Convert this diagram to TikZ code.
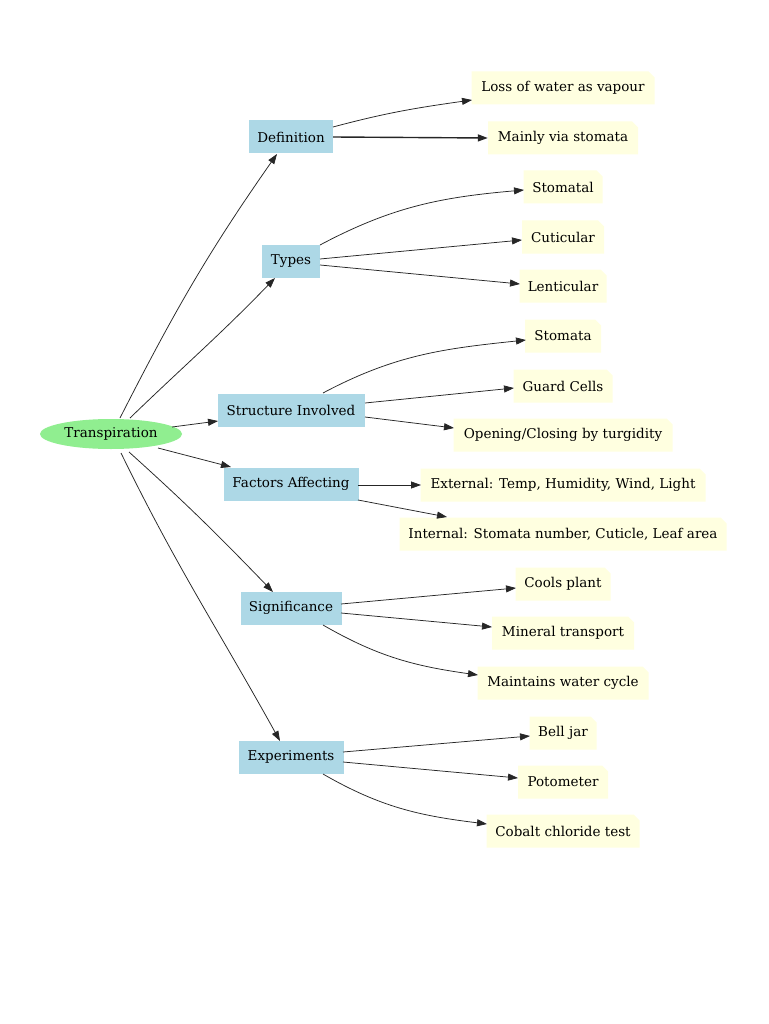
\documentclass[tikz,border=0pt]{standalone}
\usepackage{fontspec}
\setmainfont{DejaVu Serif}
\usetikzlibrary{arrows.meta,shapes.geometric,shapes.misc}
\definecolor{midc}{HTML}{ADD8E6}
\definecolor{rootc}{HTML}{90EE90}
\definecolor{leafc}{HTML}{FFFFE0}
\tikzset{
  txt/.style={font=\fontsize{13.5}{15}\selectfont},
  rootnode/.style={ellipse,fill=rootc,draw=none,minimum width=142pt,minimum height=30pt,inner sep=0pt,txt},
  midnode/.style={rectangle,fill=midc,draw=none,minimum height=33pt,inner sep=0pt,minimum width=#1,txt},
  leafnode/.style={chamfered rectangle,chamfered rectangle corners={north east},chamfered rectangle xsep=3pt,chamfered rectangle ysep=3pt,fill=leafc,draw=none,minimum height=33pt,inner sep=0pt,minimum width=#1,txt},
  conn/.style={draw=black!85,line width=0.75pt,-{Triangle[length=10pt,width=7pt]}},
  thickconn/.style={conn,line width=1.4pt}
}
\begin{document}
\begin{tikzpicture}[x=1pt,y=1pt]
\useasboundingbox (0,0) rectangle (768,-1024);
\fill[white] (0,0) rectangle (768,-1024);
% root
\node[rootnode] (tr) at (111,-434) {Transpiration};
% middle
\node[midnode=84pt] (def) at (291,-137) {Definition};
\node[midnode=58pt] (types) at (291,-261) {Types};
\node[midnode=147pt] (struct) at (291,-410) {Structure Involved};
\node[midnode=135pt] (fact) at (291,-484) {Factors Affecting};
\node[midnode=101pt] (sig) at (291,-608) {Significance};
\node[midnode=105pt] (exp) at (291,-757) {Experiments};
% leaves
\node[leafnode=183pt] (loss) at (563,-88) {Loss of water as vapour};
\node[leafnode=150pt] (mainly) at (563,-138) {Mainly via stomata};
\node[leafnode=79pt] (stomatal) at (563,-187) {Stomatal};
\node[leafnode=82pt] (cuti) at (563,-237) {Cuticular};
\node[leafnode=87pt] (lenti) at (563,-286) {Lenticular};
\node[leafnode=76pt] (stomata) at (563,-336) {Stomata};
\node[leafnode=99pt] (guard) at (563,-386) {Guard Cells};
\node[leafnode=219pt] (open) at (563,-435) {Opening/Closing by turgidity};
\node[leafnode=285pt] (ext) at (563,-485) {External: Temp, Humidity, Wind, Light};
\node[leafnode=327pt] (int) at (563,-534) {Internal: Stomata number, Cuticle, Leaf area};
\node[leafnode=95pt] (cools) at (563,-584) {Cools plant};
\node[leafnode=142pt] (mineral) at (563,-633) {Mineral transport};
\node[leafnode=171pt] (maint) at (563,-683) {Maintains water cycle};
\node[leafnode=67pt] (bell) at (563,-733) {Bell jar};
\node[leafnode=90pt] (poto) at (563,-782) {Potometer};
\node[leafnode=153pt] (cobalt) at (563,-831) {Cobalt chloride test};
% root edges
\draw[conn] ([shift={(9,16)}]tr.center) to[out=63,in=-125] ([shift={(-14,-17)}]def.center);
\draw[conn] ([shift={(19,16)}]tr.center) to[out=44,in=-134] ([shift={(-16,-17)}]types.center);
\draw[conn] ([shift={(61,7)}]tr.center) -- ([shift={(-73,-11)}]struct.center);
\draw[conn] ([shift={(47,-14)}]tr.center) -- ([shift={(-60,17)}]fact.center);
\draw[conn] ([shift={(18,-18)}]tr.center) to[out=-42,in=134] ([shift={(-18,16)}]sig.center);
\draw[conn] ([shift={(10,-19)}]tr.center) to[out=-64,in=119] ([shift={(-11,16)}]exp.center);
% definition
\draw[conn] ([shift={(42,10)}]def.center) to[out=15,in=-172] ([shift={(-91,-12)}]loss.center);
\draw[thickconn] (def.east) -- (mainly.west);
% types
\draw[conn] ([shift={(29,16)}]types.center) to[out=28,in=-175] ([shift={(-39,-3)}]stomatal.center);
\draw[conn] ([shift={(29,2)}]types.center) -- ([shift={(-41,-3)}]cuti.center);
\draw[conn] ([shift={(29,-4)}]types.center) -- ([shift={(-43,2)}]lenti.center);
% structure
\draw[conn] ([shift={(32,17)}]struct.center) to[out=28,in=-174] ([shift={(-37,-4)}]stomata.center);
\draw[conn] ([shift={(74,7)}]struct.center) -- ([shift={(-49,-2)}]guard.center);
\draw[conn] ([shift={(74,-7)}]struct.center) -- ([shift={(-109,7)}]open.center);
% factors
\draw[conn] ([shift={(67,-1)}]fact.center) -- ([shift={(-142,0)}]ext.center);
\draw[conn] ([shift={(67,-16)}]fact.center) -- ([shift={(-116,17)}]int.center);
% significance
\draw[conn] ([shift={(50,4)}]sig.center) -- ([shift={(-47,-4)}]cools.center);
\draw[conn] ([shift={(50,-5)}]sig.center) -- ([shift={(-71,6)}]mineral.center);
\draw[conn] ([shift={(32,-17)}]sig.center) to[out=-30,in=172] ([shift={(-85,8)}]maint.center);
% experiments
\draw[conn] ([shift={(52,5)}]exp.center) -- ([shift={(-33,-3)}]bell.center);
\draw[conn] ([shift={(52,-5)}]exp.center) -- ([shift={(-45,4)}]poto.center);
\draw[conn] ([shift={(32,-17)}]exp.center) to[out=-30,in=173] ([shift={(-76,7)}]cobalt.center);
\end{tikzpicture}
\end{document}
